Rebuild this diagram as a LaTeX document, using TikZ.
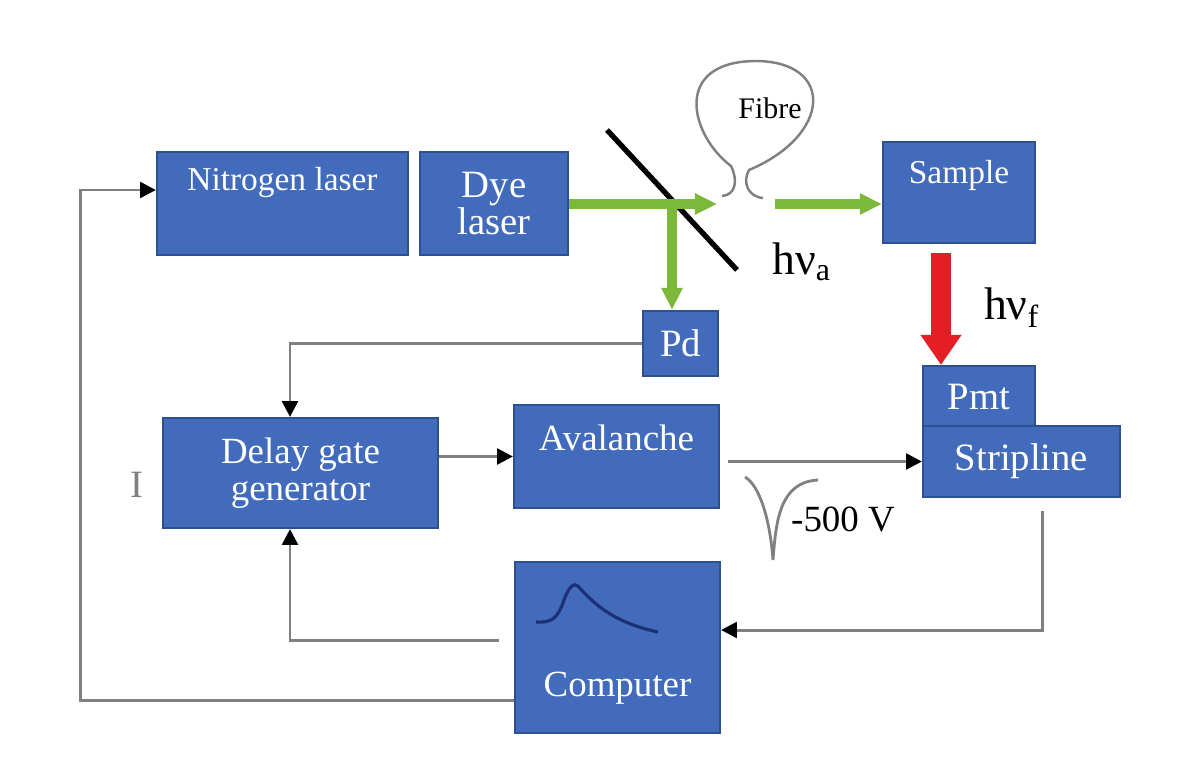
\documentclass[tikz,border=0pt]{standalone}
\usepackage{fontspec}
\setmainfont{Liberation Serif}
\usetikzlibrary{arrows.meta,positioning,calc}
\definecolor{boxblue}{RGB}{66,107,188}
\definecolor{boxedge}{RGB}{45,80,145}
\definecolor{beamgreen}{RGB}{124,184,58}
\definecolor{wiregray}{RGB}{128,128,128}
\definecolor{flred}{RGB}{228,30,36}
\definecolor{tracecol}{RGB}{28,48,118}

\begin{document}
\begin{tikzpicture}[x=0.01cm,y=-0.01cm,
        box/.style={rectangle,draw=boxedge,fill=boxblue,text=white,line width=0.6pt,
          inner sep=0pt,align=center,font=\fontsize{10.5}{10.5}\selectfont},
        boxtext/.style={text=white,inner sep=0pt,font=\fontsize{10}{11}\selectfont},
        wire/.style={draw=wiregray,line width=0.85pt,-{Triangle[black,length=4.5pt,width=4.5pt]}},
        beam/.style={draw=beamgreen,line width=2.8pt,-{Triangle[length=0.22cm,width=0.2cm]}},
        flarrow/.style={draw=flred,line width=0.2cm,-{Triangle[length=0.3cm,width=0.39cm]}},
        photon/.style={inner sep=0pt,font=\fontsize{13}{13}\selectfont}]

  \useasboundingbox (0,0) rectangle (1200,782);

  % boxes
  \node[box,minimum width=2.51cm,minimum height=1.03cm] (nitro) at (282.5,203.5) {};
  \node[boxtext,below=0.16cm of nitro.north,font=\fontsize{9.5}{11}\selectfont] (nitrot) {Nitrogen laser};
  \node[box,minimum width=1.48cm,minimum height=1.03cm,font=\fontsize{11}{10.5}\selectfont] (dye) at (494,203.5) {Dye\\laser};
  \node[box,minimum width=1.52cm,minimum height=1.01cm] (sample) at (959,192.5) {};
  \node[boxtext,below=0.19cm of sample.north,font=\fontsize{9.5}{11}\selectfont] (samplet) {Sample};
  \node[box,minimum width=0.75cm,minimum height=0.65cm,font=\fontsize{11}{11}\selectfont] (pd) at (680.5,343.5) {Pd};
  \node[box,minimum width=1.12cm,minimum height=0.62cm,font=\fontsize{11}{11}\selectfont] (pmt) at (979,397) {Pmt};
  \node[box,minimum width=1.97cm,minimum height=0.71cm,font=\fontsize{11}{11}\selectfont] (strip) at (1021.5,461.5) {Stripline};
  \node[box,minimum width=2.75cm,minimum height=1.10cm] (delay) at (300.5,473) {Delay gate\\generator};
  \node[box,minimum width=2.05cm,minimum height=1.03cm] (aval) at (616.5,456.5) {};
  \node[boxtext,below=0.2cm of aval.north,font=\fontsize{10.5}{11}\selectfont] (avalt) {Avalanche};
  \node[box,minimum width=2.05cm,minimum height=1.71cm] (comp) at (617.5,647.5) {};
  \node[boxtext,font=\fontsize{10.5}{11}\selectfont] (compt) at ([yshift=-0.41cm]comp.center) {Computer};

  % trace on the screen
  \draw[tracecol,line width=0.9pt] (536,622) .. controls (552,623) and (558,618) .. (564,600)
        .. controls (568,588) and (574,582) .. (578,586)
        .. controls (600,612) and (625,625) .. (658,632);

  % mirror and fibre
  \draw[black,line width=1.5pt] (607,130) -- (737,270);
  \coordinate (hit) at (672,204);
  \coordinate (beamend) at (717,204);
  \coordinate (fin) at (722,196);
  \coordinate (fout) at (763,198);
  \coordinate (fbeam) at (775,204);
  \draw[wiregray,line width=0.7pt] (fin) .. controls (736,195) and (738,180) .. (731,166)
        .. controls (690,135) and (672,62) .. (755,61)
        .. controls (835,61) and (832,135) .. (749,170)
        .. controls (742,182) and (748,197) .. (fout);
  \node[inner sep=0pt,font=\fontsize{8.5}{10}\selectfont] (fibre) at (770,108) {Fibre};

  % light paths
  \draw[beam] (dye.east |- hit) -- (beamend);
  \draw[beam] (hit) -- (hit |- pd.north);
  \draw[beam] (fbeam) -- (fbeam -| sample.west);
  \node[photon] (hva) at (802,262) {hν\textsubscript{a}};
  \coordinate (fl) at (941,253);
  \draw[flarrow] (fl) -- (fl |- pmt.north);
  \node[photon] (hvf) at (1012,308) {hν\textsubscript{f}};

  % signal lines
  \draw[wire] ($(comp.west)+(0,52.5)$) -- ++(-433,0) |- ($(nitro.west)+(0,-13.5)$);
  \draw[wire] ($(comp.west)+(-15,-7.5)$) -| ($(delay.south)+(-10.5,0)$);
  \draw[wire] (pd.west) -| ($(delay.north)+(-10.5,0)$);
  \draw[wire] (delay.east |- aval.west) -- (aval.west);
  \draw[wire] ($(aval.east |- strip.west)+(8,0)$) -- (strip.west);
  \draw[wire] ($(strip.south)+(20.5,13)$) |- ($(comp.east)+(0,-17.5)$);

  % pulse
  \draw[wiregray,line width=0.8pt] (745,477) .. controls (760,486) and (770,520) .. (773,560)
        .. controls (776,520) and (780,482) .. (818,480);
  \node[inner sep=0pt,font=\fontsize{10.5}{11}\selectfont] (volt) at (843,519) {-500 V};
  \node[inner sep=0pt,text=wiregray,font=\fontsize{11}{11}\selectfont] (mark) at (137,485) {I};

\end{tikzpicture}
\end{document}
